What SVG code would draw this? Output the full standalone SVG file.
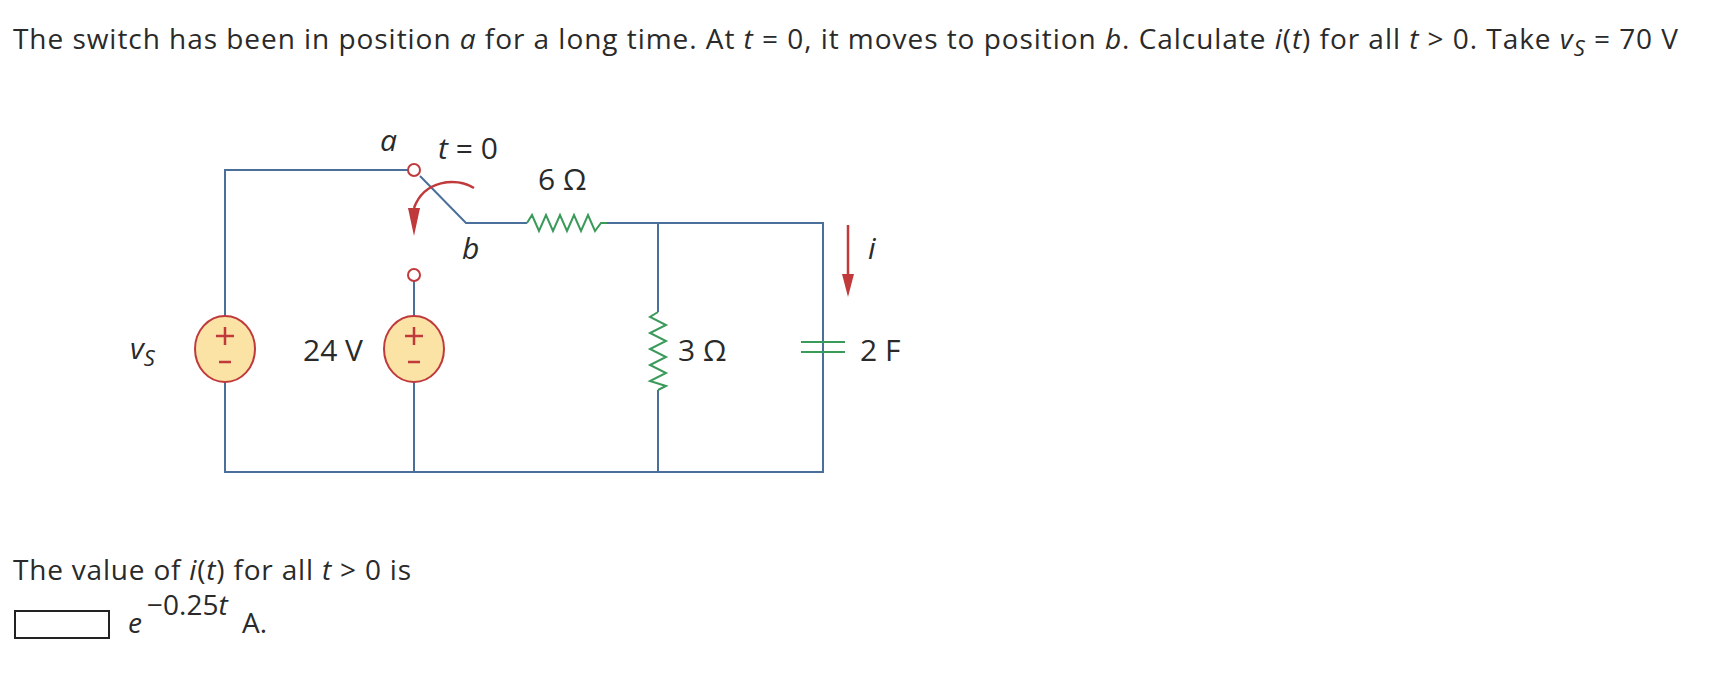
<svg xmlns="http://www.w3.org/2000/svg" width="1720" height="688" viewBox="0 0 1720 688">
<style>
text{font-family:"Open Sans","Liberation Sans",sans-serif;fill:#2a2a2a}
.t{font-size:28px}
.l{font-size:30px}
.i{font-style:italic}
.w{stroke:#4a6f9a;stroke-width:2;fill:none}
.g{stroke:#3a9a5a;stroke-width:2;fill:none}
.r{stroke:#c0393b;stroke-width:2.5;fill:none}
.src{fill:#fbe3a6;stroke:#c0393b;stroke-width:2}
.pm{stroke:#c0393b;stroke-width:2.5}
</style>
<rect width="1720" height="688" fill="#fff"/>
<text class="t" x="13" y="49" textLength="1665" lengthAdjust="spacing">The switch has been in position <tspan class="i">a</tspan> for a long time. At <tspan class="i">t</tspan> = 0, it moves to position <tspan class="i">b</tspan>. Calculate <tspan class="i">i</tspan>(<tspan class="i">t</tspan>) for all <tspan class="i">t</tspan> &gt; 0. Take <tspan class="i">v</tspan><tspan class="i" font-size="22" dy="7">S</tspan><tspan dy="-7"> = 70 V</tspan></text>
<g id="wires">
<path class="w" d="M408,170 H225 V316 M225,382 V472 H823 V223 H607 M527,223 H466 L420,176 M414,281 V316 M414,382 V472 M658,223 V312 M658,390 V472 M823,223 V342 M823,352 V472"/>
</g>
<g id="switch">
<circle cx="414" cy="170" r="6" fill="#fff" stroke="#c0393b" stroke-width="2"/>
<circle cx="414" cy="275" r="6" fill="#fff" stroke="#c0393b" stroke-width="2"/>
<path class="r" d="M474,188 C456,177 424,180 414,208"/>
<path d="M408,208 L420,208 L414,236 Z" fill="#c0393b"/>
</g>
<g id="vs"><ellipse class="src" cx="225" cy="349" rx="30" ry="33"/><path class="pm" d="M225,327 V345 M216,336 H234 M219,362 H231"/></g>
<g id="v24"><ellipse class="src" cx="414" cy="349" rx="30" ry="33"/><path class="pm" d="M414,327 V345 M405,336 H423 M408,362 H420"/></g>
<g id="r6"><path class="g" d="M527,223 L532,215 L539,231 L546,215 L553,231 L560,215 L567,231 L574,215 L581,231 L588,215 L595,231 L601,223 L607,223"/></g>
<g id="r3"><path class="g" d="M658,312 L650,317 L666,325 L650,333 L666,341 L650,349 L666,357 L650,365 L666,373 L650,381 L666,386 L658,390"/></g>
<g id="cap"><path class="g" d="M801,342 H845 M801,352 H845"/></g>
<g id="iarrow"><path class="r" d="M848,225 V276"/><path d="M842,274 L854,274 L848,297 Z" fill="#c0393b"/></g>
<text class="l i" x="380" y="151">a</text>
<text class="l" x="438" y="159"><tspan class="i">t</tspan> = 0</text>
<text class="l" x="538" y="190">6 Ω</text>
<text class="l i" x="462" y="259">b</text>
<text class="l i" x="868" y="259">i</text>
<text class="l i" x="130" y="359">v<tspan font-size="22" dy="7">S</tspan></text>
<text class="l" x="303" y="361">24 V</text>
<text class="l" x="678" y="361">3 Ω</text>
<text class="l" x="860" y="361">2 F</text>
<text class="t" x="13" y="580" textLength="398" lengthAdjust="spacing">The value of <tspan class="i">i</tspan>(<tspan class="i">t</tspan>) for all <tspan class="i">t</tspan> &gt; 0 is</text>
<rect x="15" y="611" width="94" height="27" fill="#fff" stroke="#222" stroke-width="2"/>
<text class="t i" x="128" y="633">e</text>
<text class="t" x="147" y="615">−0.25<tspan class="i">t</tspan></text>
<text class="t" x="242" y="633">A.</text>
</svg>
